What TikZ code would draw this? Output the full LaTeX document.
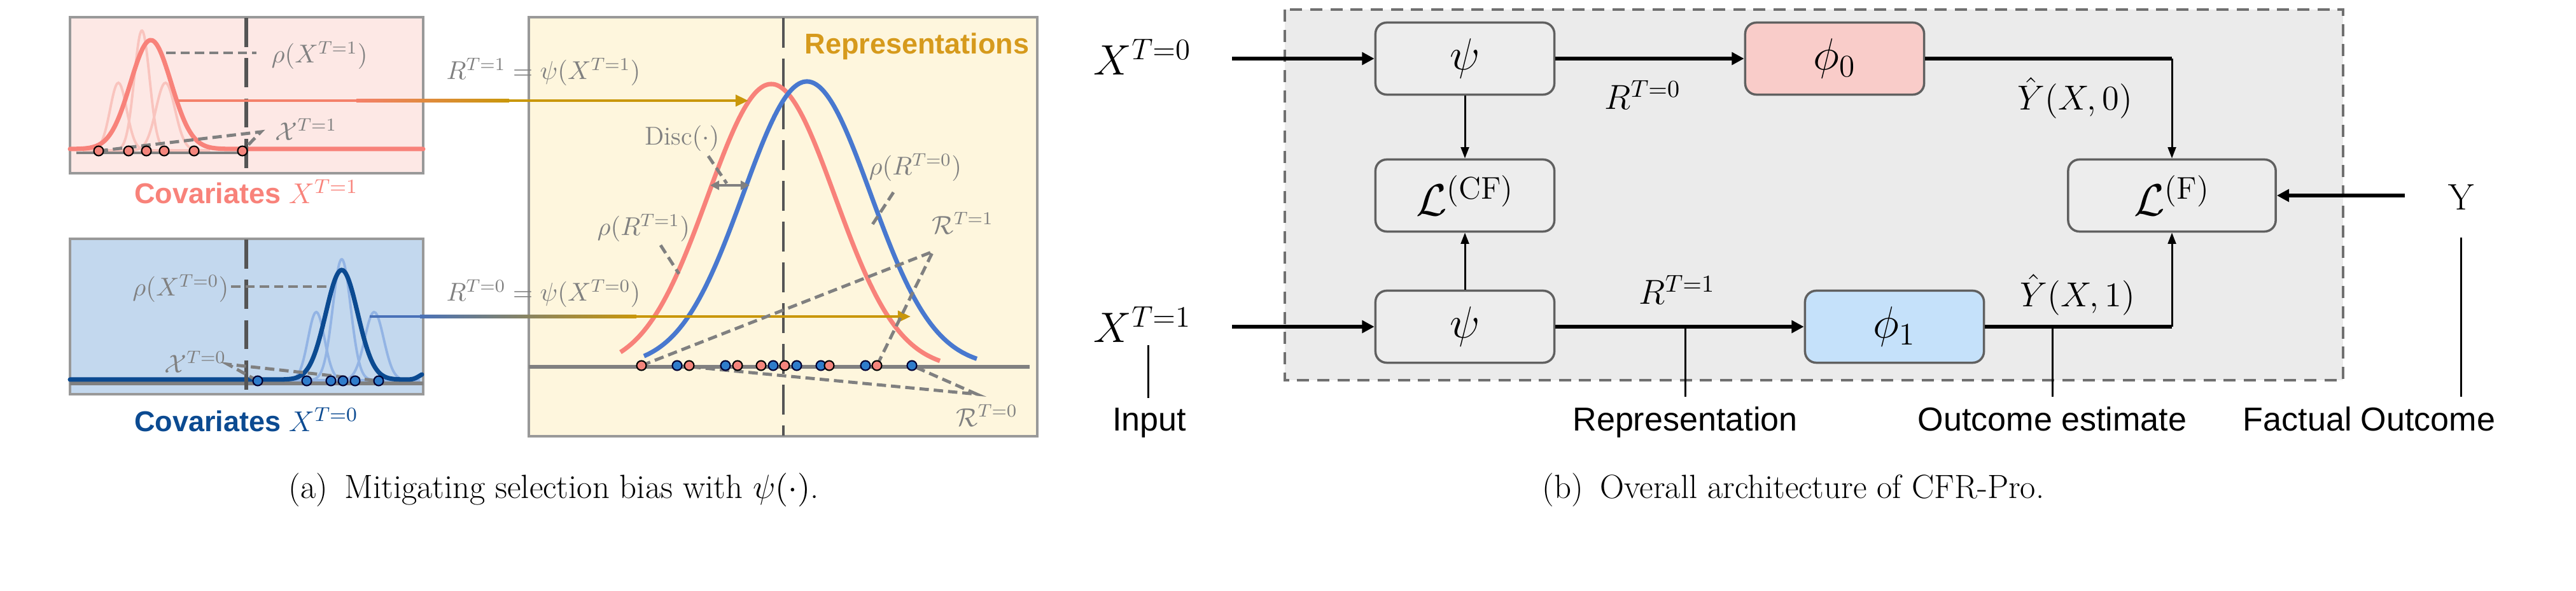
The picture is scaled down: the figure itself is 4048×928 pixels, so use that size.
\RequirePackage{fix-cm}
\documentclass[tikz,border=0pt]{standalone}
\usepackage{fontspec}
\usepackage{amsmath}
\newfontfamily\arialf{Liberation Sans}
\usetikzlibrary{arrows.meta}

\definecolor{pinkbg}{HTML}{FDE8E5}
\definecolor{bluebg}{HTML}{C3D8EE}
\definecolor{yelbg}{HTML}{FEF6DD}
\definecolor{salmon}{HTML}{F8827A}
\definecolor{salmonfaint}{HTML}{F9C4BE}
\definecolor{navy}{HTML}{0B4A91}
\definecolor{bluefaint}{HTML}{93B4E4}
\definecolor{gold}{HTML}{C9970A}
\definecolor{goldtxt}{HTML}{D69A1C}
\definecolor{bluecurve}{HTML}{4878CF}
\definecolor{dotpink}{HTML}{F4857C}
\definecolor{dotblue}{HTML}{2F7CCB}
\definecolor{lblgray}{HTML}{808080}
\definecolor{dashdark}{HTML}{555555}
\definecolor{framegray}{HTML}{999999}
\definecolor{panelbg}{HTML}{EBEBEB}
\definecolor{nodebg}{HTML}{EDEDED}
\definecolor{nodeborder}{HTML}{606060}
\definecolor{phizero}{HTML}{F9CCC9}
\definecolor{phione}{HTML}{C5E1FA}
\definecolor{blueline}{HTML}{4A72B8}
\definecolor{salmonline}{HTML}{F4806A}

\begin{document}
\begin{tikzpicture}[x=0.01cm, y=-0.01cm,
  declare function={gs(\xx,\mm,\ww)=exp(max(-9,-0.5*((\xx-\mm)/\ww)^2));},
  gdash/.style={draw=lblgray, line width=1.4pt, dash pattern=on 4.2pt off 2.2pt},
  vdash/.style={draw=dashdark, line width=1.7pt, dash pattern=on 13pt off 5pt},
  vdashthin/.style={draw=dashdark, line width=1.1pt, dash pattern=on 13.4pt off 4.8pt},
  mlbl/.style={text=lblgray, font=\fontsize{11.5}{13}\selectfont, inner sep=0},
  pdot/.style={circle, draw=black, line width=0.6pt, fill=dotpink, minimum size=0.15cm, inner sep=0},
  bdot/.style={circle, draw=black!80!blue, line width=0.6pt, fill=dotblue, minimum size=0.15cm, inner sep=0},
  blk/.style={draw=nodeborder, line width=1pt, fill=nodebg, rounded corners=5pt, minimum width=2.81cm, minimum height=1.13cm, font=\fontsize{20}{24}\selectfont, inner sep=0},
  thickline/.style={line width=1.7pt},
  thickarr/.style={line width=1.7pt, -{Triangle[length=5.5pt,width=5.5pt]}},
  thinarr/.style={line width=0.85pt, -{Triangle[length=5pt,width=3.6pt]}},
  goldarr/.style={draw=gold, line width=1.3pt, -{Triangle[length=5.7pt,width=5pt]}},
  lead/.style={line width=0.85pt},
  sflbl/.style={font=\arialf\fontsize{14.8}{17}\selectfont, inner sep=0, anchor=base},
  mlab/.style={font=\fontsize{15.5}{18}\selectfont, inner sep=0, anchor=base west},
  mbig/.style={font=\fontsize{19}{23}\selectfont, inner sep=0, anchor=base west},
  capt/.style={font=\fontsize{15}{18}\selectfont, inner sep=0, anchor=base},
  covlbl/.style={font=\arialf\bfseries\fontsize{12.8}{15}\selectfont, inner sep=0, anchor=base}
]
\useasboundingbox (0,0) rectangle (4048,928);

% ================= panel (a) =================
% ---- pink box ----
\filldraw[fill=pinkbg, draw=framegray, line width=0.9pt] (110,27) rectangle (665,272);
\draw[lblgray, line width=1.2pt] (120,240) -- (387,240);
\foreach \pc/\ph/\pw in {223/188/12, 186/106/13, 260/106/15}
  \draw[salmonfaint, line width=1.1pt] plot[domain=130:330, samples=90, smooth] (\x,{236-\ph*gs(\x,\pc,\pw)});
\draw[salmon, line width=2pt, line cap=round] plot[domain=110:665, samples=160, smooth] (\x,{234-171*gs(\x,237,32)});
\draw[vdash] (387,28) -- (387,268);

% ---- blue box ----
\filldraw[fill=bluebg, draw=framegray, line width=0.9pt] (110,375) rectangle (665,619);
\draw[lblgray, line width=1.6pt] (110,602) -- (665,602);
\foreach \pc/\ph/\pw in {537/190/14, 497/107/13, 588/107/15}
  \draw[bluefaint, line width=1.1pt] plot[domain=430:660, samples=90, smooth] (\x,{597-\ph*gs(\x,\pc,\pw)});
\draw[navy, line width=2pt, line cap=round] plot[domain=110:640, samples=160, smooth] (\x,{596-172*gs(\x,537,25)}) .. controls (652,596) and (656,592) .. (663,588);
\draw[vdash] (387,376) -- (387,617);

% ---- yellow box ----
\filldraw[fill=yelbg, draw=framegray, line width=0.9pt] (831,27) rectangle (1630,685);
\draw[vdashthin] (1231,28) -- (1231,684);
\draw[lblgray, line width=1.8pt] (831,576) -- (1618,576);
\draw[salmon, line width=2pt] plot[domain=975:1477, samples=160, smooth] (\x,{580-448*gs(\x,1212,100)});
\draw[bluecurve, line width=2pt] plot[domain=1012:1535, samples=160, smooth] (\x,{576-448*gs(\x,1268,100)});

% ---- mapping arrows ----
\draw[salmonline, line width=1.3pt] (280,158) -- (560,158);
\shade[left color=salmonline, right color=gold] (560,155.7) rectangle (800,160.3);
\draw[goldarr] (800,158) -- (1176,158);
\draw[blueline, line width=1.3pt] (581,497) -- (660,497);
\shade[left color=blueline, right color=gold] (660,494.7) rectangle (1000,499.3);
\draw[goldarr] (1000,497) -- (1431,497);

% ---- pink dots and leaders ----
\foreach \px [count=\i] in {155,202,230,258,305,381} \coordinate (pd\i) at (\px,237);
\coordinate (apxA) at (410,207);
\draw[gdash] (pd1) -- (apxA) -- (pd6);
\draw[gdash] (261,83) -- (403,83);
\foreach \i in {1,...,6} \node[pdot] (pdn\i) at (pd\i) {};
\node[mlbl, anchor=west] (rhoXa) at (426,87) {$\rho(X^{T=1})$};
\node[mlbl, anchor=west] (chiXa) at (432,203) {$\mathcal{X}^{T=1}$};
\node[covlbl, text=salmon] (covA) at (387,320) {Covariates $X^{T=1}$};

% ---- blue dots and leaders ----
\foreach \px [count=\i] in {405,482,520,539,558,595} \coordinate (bd\i) at (\px,598);
\coordinate (apxB) at (358,572);
\draw[gdash] (bd1) -- (apxB) -- (bd6);
\draw[gdash] (363,450) -- (518,450);
\foreach \i in {1,...,6} \node[bdot] (bdn\i) at (bd\i) {};
\node[mlbl, anchor=east] (rhoXb) at (360,453) {$\rho(X^{T=0})$};
\node[mlbl, anchor=east] (chiXb) at (356,568) {$\mathcal{X}^{T=0}$};
\node[covlbl, text=navy] (covB) at (387,678) {Covariates $X^{T=0}$};

% ---- yellow panel leaders, dots, labels ----
\foreach \px [count=\i] in {1008,1083,1159,1196,1233,1303,1378} \coordinate (rp\i) at (\px,574);
\foreach \px [count=\i] in {1064,1140,1215,1252,1290,1360,1433} \coordinate (rb\i) at (\px,574);
\coordinate (apxC) at (1466,395);
\coordinate (apxD) at (1535,619);
\draw[gdash] (rp1) -- (apxC) -- (rp7);
\draw[gdash] (rb1) -- (apxD) -- (rb7);
\draw[gdash] (1113,245) -- (1142,288);
\draw[gdash] (1404,302) -- (1368,357);
\draw[gdash] (1038,385) -- (1067,430);
\draw[lblgray, line width=1.2pt, {Triangle[length=4pt,width=4pt]}-{Triangle[length=4pt,width=4pt]}] (1116,291) -- (1178,291);
\foreach \i in {1,...,7} {
  \node[pdot] (rpn\i) at (rp\i) {};
  \node[bdot] (rbn\i) at (rb\i) {};
}
\node[font=\arialf\bfseries\fontsize{12.8}{15}\selectfont, text=goldtxt, anchor=base west, inner sep=0] (reptitle) at (1264,85) {Representations};
\node[mlbl, anchor=west] (mapA) at (701,113) {$R^{T=1}=\psi(X^{T=1})$};
\node[mlbl, anchor=west] (mapB) at (701,461) {$R^{T=0}=\psi(X^{T=0})$};
\node[mlbl, anchor=east] (disc) at (1131,217) {$\mathrm{Disc}(\cdot)$};
\node[mlbl, anchor=west] (rhoRb) at (1365,263) {$\rho(R^{T=0})$};
\node[mlbl, anchor=west] (rhoRa) at (938,358) {$\rho(R^{T=1})$};
\node[mlbl, anchor=west] (calRa) at (1464,350) {$\mathcal{R}^{T=1}$};
\node[mlbl, anchor=west] (calRb) at (1502,652) {$\mathcal{R}^{T=0}$};

\node[capt] (capa) at (870,782) {(a)\enspace Mitigating selection bias with $\psi(\cdot)$.};

% ================= panel (b) =================
\fill[panelbg] (2019,15) rectangle (3682,597);
\draw[draw=nodeborder!90, line width=1.2pt, dash pattern=on 5.4pt off 3.6pt] (2019,15) rectangle (3682,597);

\node[blk] (psi0) at (2302,92) {$\psi$};
\node[blk, fill=phizero] (phi0) at (2883,92) {$\phi_0$};
\node[blk] (lcf) at (2302,307) {$\mathcal{L}^{(\mathrm{CF})}$};
\node[blk, minimum width=3.26cm] (lf) at (3413,307) {$\mathcal{L}^{(\mathrm{F})}$};
\node[blk] (psi1) at (2302,513) {$\psi$};
\node[blk, fill=phione] (phi1) at (2977,513) {$\phi_1$};

\node[mbig] (x0) at (1718,118) {$X^{T=0}$};
\node[mbig] (x1) at (1718,538) {$X^{T=1}$};
\node[mlab] (r0) at (2521,172) {$R^{T=0}$};
\node[mlab] (r1) at (2575,478) {$R^{T=1}$};
\node[mlab] (yh0) at (3170,173) {$\hat{Y}(X,0)$};
\node[mlab] (yh1) at (3174,482) {$\hat{Y}(X,1)$};
\node[font=\fontsize{16.5}{19}\selectfont, inner sep=0, anchor=base west] (yl) at (3847,330) {Y};
\node[sflbl] (inp) at (1806,677) {Input};
\node[sflbl] (rep) at (2648,677) {Representation};
\node[sflbl] (outc) at (3225,677) {Outcome estimate};
\node[sflbl] (fo) at (3723,677) {Factual Outcome};

\coordinate (x0s) at (1936,92);
\coordinate (x1s) at (1936,513);
\coordinate (ys) at (3779,307);

\draw[thickarr] (x0s) -- (psi0.west);
\draw[thickarr] (psi0) -- (phi0);
\draw[thickline] (phi0.east) -- (phi0.east -| lf.north) coordinate (c0);
\draw[thinarr] (c0) -- (lf.north);
\draw[thinarr] (psi0) -- (lcf);
\draw[thinarr] (psi1) -- (lcf);
\draw[thickarr] (x1s) -- (psi1.west);
\draw[thickarr] (psi1) -- (phi1);
\draw[thickline] (phi1.east) -- (phi1.east -| lf.south) coordinate (c1);
\draw[thinarr] (c1) -- (lf.south);
\draw[thickarr] (ys) -- (lf.east);

\coordinate (inpTop) at (1804,542);
\path ([yshift=4.5pt]inp.north) coordinate (inpBot);
\draw[lead] (inpTop) -- (inpTop |- inpBot);
\coordinate (repTap) at (psi1.east -| rep.north);
\path ([yshift=4.5pt]rep.north) coordinate (repBot);
\draw[lead] (repTap) -- (repBot);
\coordinate (outTap) at (phi1.east -| outc.north);
\path ([yshift=4.5pt]outc.north) coordinate (outBot);
\draw[lead] (outTap) -- (outBot);
\path ([yshift=-12pt]yl.south) coordinate (yTop);
\draw[lead] (yTop) -- (yTop |- repBot);

\node[capt] (capb) at (2818,782) {(b)\enspace Overall architecture of CFR-Pro.};
\end{tikzpicture}
\end{document}
